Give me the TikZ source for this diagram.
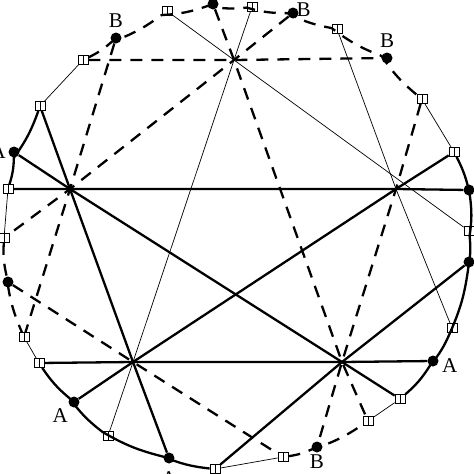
\documentclass[tikz,border=0pt]{standalone}
\usepackage{fontspec}
\setmainfont{Liberation Serif}
\usetikzlibrary{positioning}

\begin{document}
\begin{tikzpicture}[x=1pt, y=-1pt, font=\fontsize{21}{21}\selectfont,
    sq/.style={draw, fill=white, line width=0.7pt, minimum width=10pt, minimum height=9pt, inner sep=0pt,
        path picture={\draw[line width=0.7pt] (path picture bounding box.north) -- (path picture bounding box.south);}},
    blob/.style={circle, fill, minimum size=11pt, inner sep=0pt},
    fine/.style={line width=0.7pt},
    bold/.style={line width=2.3pt},
    broken/.style={line width=2.3pt, dash pattern=on 12pt off 9pt},
    rim/.style={bend right=8}]
\useasboundingbox (0,0) rectangle (474,474);

\node[sq] (s1) at (83,60) {};
\node[sq] (s2) at (167,11) {};
\node[sq] (s3) at (252,7) {};
\node[sq] (s4) at (337,29) {};
\node[sq] (s5) at (422,99) {};
\node[sq] (s6) at (454,152) {};
\node[sq] (s7) at (469,231) {};
\node[sq] (s8) at (452,328) {};
\node[sq] (s9) at (400,399) {};
\node[sq] (s10) at (368,421) {};
\node[sq] (s11) at (283,457) {};
\node[sq] (s12) at (215,469) {};
\node[sq] (s13) at (108,436) {};
\node[sq] (s14) at (39,363) {};
\node[sq] (s15) at (24,337) {};
\node[sq] (s16) at (4,238) {};
\node[sq] (s17) at (8,189) {};
\node[sq] (s18) at (40,106) {};

\node[blob] (a1) at (14,152) {};
\node[blob] (a2) at (74,402) {};
\node[blob] (a3) at (169,458) {};
\node[blob] (a4) at (433,361) {};
\node[blob] (a5) at (469,262) {};
\node[blob] (a6) at (469,190) {};
\node[blob] (b1) at (116,38) {};
\node[blob] (b2) at (213,4) {};
\node[blob] (b3) at (293,13) {};
\node[blob] (b4) at (387,58) {};
\node[blob] (b5) at (317,447) {};
\node[blob] (b6) at (8,282) {};

\coordinate (c1) at (70,189);
\coordinate (c2) at (234,60);
\coordinate (c3) at (396,189);
\coordinate (c4) at (133,362);
\coordinate (c5) at (342,362);

\node[above=1pt of b1] (lb1) {B};
\node[above right=-11pt and -4pt of b3] (lb3) {B};
\node[above=1pt of b4] (lb4) {B};
\node[below=-1pt of b5] (lb5) {B};
\node[left=-1pt of a1] (la1) {A};
\node[below left=-2pt of a2] (la2) {A};
\node[below=4pt of a3] (la3) {A};
\node[right=0pt of a4, yshift=-5pt] (la4) {A};

\draw[bold] (s17) -- (c1) -- (c3) -- (a6);
\draw[bold] (s14) -- (c4) -- (c5) -- (a4);
\draw[bold] (s18) -- (c1) -- (c4) -- (a3);
\draw[bold] (a1) -- (c1) -- (c5) -- (s9);
\draw[bold] (a2) -- (c4) -- (c3) -- (s6);
\draw[bold] (s12) -- (c5) -- (a5);
\draw[bold] (s17) to[rim] (a1) to[rim] (s18);
\draw[bold] (s14) to[rim] (a2) to[rim] (s13) to[rim] (a3) to[rim] (s12);
\draw[bold] (s9) to[rim] (a4) to[rim] (s8) to[rim] (a5) to[rim] (s7) to[rim] (a6) to[rim] (s6);

\draw[broken] (s1) to[rim] (b1) to[rim] (s2) to[rim] (b2) to[rim] (s3) to[rim] (b3) to[rim] (s4) to[rim] (b4) to[rim] (s5);
\draw[broken] (s16) to[rim] (b6) to[rim] (s15);
\draw[broken] (s11) to[rim] (b5) to[rim] (s10);
\draw[broken] (s1) -- (c2) -- (b4);
\draw[broken] (b3) -- (c2) -- (c1) -- (s16);
\draw[broken] (b2) -- (c2) -- (c5) -- (s10);
\draw[broken] (b1) -- (c1) -- (s15);
\draw[broken] (b6) -- (c4) -- (s11);
\draw[broken] (s5) -- (c3) -- (c5) -- (b5);

\draw[fine] (s17) -- (s16);
\draw[fine] (s18) -- (s1);
\draw[fine] (s2) -- (c2) -- (s7);
\draw[fine] (s3) -- (c2) -- (c4) -- (s13);
\draw[fine] (s4) -- (c3) -- (s8);
\draw[fine] (s5) -- (s6);
\draw[fine] (s15) -- (s14);
\draw[fine] (s12) -- (s11);
\draw[fine] (s10) -- (s9);
\end{tikzpicture}
\end{document}
